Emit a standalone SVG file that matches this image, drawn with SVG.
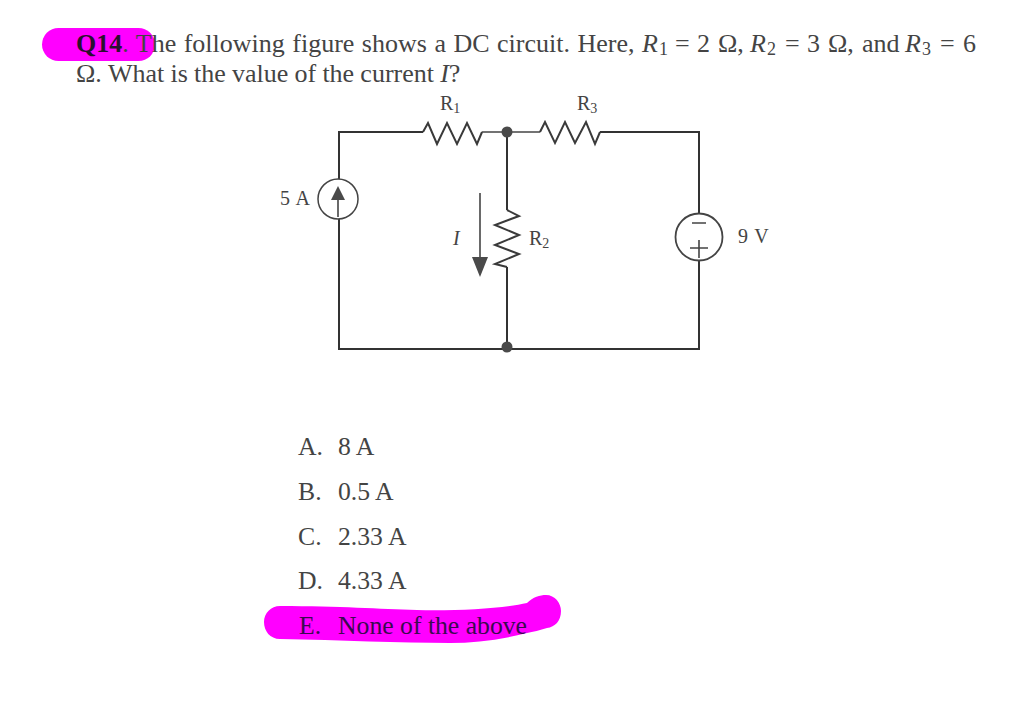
<svg xmlns="http://www.w3.org/2000/svg" width="1024" height="714" viewBox="0 0 1024 714">
<style>
text{font-family:"Liberation Serif","Times New Roman",serif;fill:#444}
.q{font-size:26px}
.o{font-size:25.700px}
.l{font-size:20px}
.s{font-size:14px}
.sq{font-size:18px}
.i{font-style:italic}
.w{fill:none;stroke:#333;stroke-width:2;stroke-linejoin:miter}
.t{fill:none;stroke:#444;stroke-width:1.6}
.z{fill:none;stroke:#3a3a3a;stroke-width:2}
.f{fill:#4a4a4a}
.h{fill:#ff00ff}
.e{fill:#3a0a50}
</style>
<rect width="1024" height="714" fill="#ffffff"/>
<g id="highlights">
<rect class="h" x="42" y="28" width="113" height="33" rx="16.500"/>
<path class="h" d="M280 606C340 606 380 609 417 610C460 611 505 608 527 603C533 597 540 595 546 595C555 595 561 603 561 611C561 621 555 627 547 628C540 630 533 632 527 633C500 640 475 643 450 643C400 643 340 640 280 639C270 639 264 631 264 622C264 613 271 606 280 606Z"/>
</g>
<g id="question">
<text class="q" x="76" y="52" word-spacing="1"><tspan font-weight="bold" fill="#2a1030">Q14</tspan>. The following figure shows a DC circuit. Here,</text>
<text class="q" y="52"><tspan class="i" x="642">R</tspan><tspan class="sq" x="659" dy="3">1</tspan><tspan x="675" dy="-3">=</tspan><tspan x="697">2</tspan><tspan x="718">Ω,</tspan><tspan class="i" x="750">R</tspan><tspan class="sq" x="767" dy="3">2</tspan><tspan x="785" dy="-3">=</tspan><tspan x="807">3</tspan><tspan x="828">Ω,</tspan><tspan x="862">and</tspan><tspan class="i" x="905">R</tspan><tspan class="sq" x="922" dy="3">3</tspan><tspan x="940" dy="-3">=</tspan><tspan x="963">6</tspan></text>
<text class="q" x="76" y="82" word-spacing="-0.300">Ω. What is the value of the current <tspan class="i">I</tspan>?</text>
</g>
<g id="connectors">
<path class="w" d="M339 184V132H423"/>
<path class="w" d="M339 217V349H699V260"/>
<path class="t" d="M482 132H540"/>
<path class="w" d="M600 132H699V214"/>
<path class="w" d="M507 132V210"/>
<path class="w" d="M507 267V347"/>
</g>
<g id="R1">
<path class="z" d="M423 132L428 123L437 144L447 123L457 144L467 123L477 144L482 132"/>
<text class="l" x="440" y="110">R<tspan class="s" dy="3">1</tspan></text>
</g>
<g id="R3">
<path class="z" d="M540 132L545 122L555 143L565 122L575 143L586 122L595 144L600 132"/>
<text class="l" x="577" y="110">R<tspan class="s" dy="3">3</tspan></text>
</g>
<g id="R2">
<path class="z" d="M507 210L519 216L495 225L519 235L495 245L519 254L495 264L507 267"/>
<text class="l" x="529" y="245">R<tspan class="s" dy="3">2</tspan></text>
</g>
<g id="node-top"><circle class="f" cx="507" cy="132" r="5.500"/></g>
<g id="node-bottom"><circle class="f" cx="507" cy="347" r="5.500"/></g>
<g id="current-source">
<circle cx="338" cy="199" r="20" fill="#fff" stroke="#444" stroke-width="1.500"/>
<path class="t" d="M338 217V190"/>
<path class="f" d="M338 186L345 200H331Z"/>
<text class="l" x="280" y="205" word-spacing="1.500">5 A</text>
</g>
<g id="current-label">
<path class="t" d="M480 193V260"/>
<path class="f" d="M472 257H488L480 277Z"/>
<text class="l i" x="453" y="245">I</text>
</g>
<g id="voltage-source">
<circle cx="699" cy="237" r="23.500" fill="#fff" stroke="#444" stroke-width="1.800"/>
<path class="t" d="M692 223H706M690 248H708M699 240V258"/>
<text class="l" x="738" y="243" word-spacing="1.500">9 V</text>
</g>
<g id="options">
<text class="o" x="298" y="455">A.</text><text class="o" x="338" y="455">8 A</text>
<text class="o" x="298" y="500">B.</text><text class="o" x="338" y="500">0.5 A</text>
<text class="o" x="298" y="545">C.</text><text class="o" x="338" y="545">2.33 A</text>
<text class="o" x="298" y="589">D.</text><text class="o" x="338" y="589">4.33 A</text>
<text class="o e" x="299" y="634">E.</text><text class="o e" x="338" y="634">None of the above</text>
</g>
</svg>
